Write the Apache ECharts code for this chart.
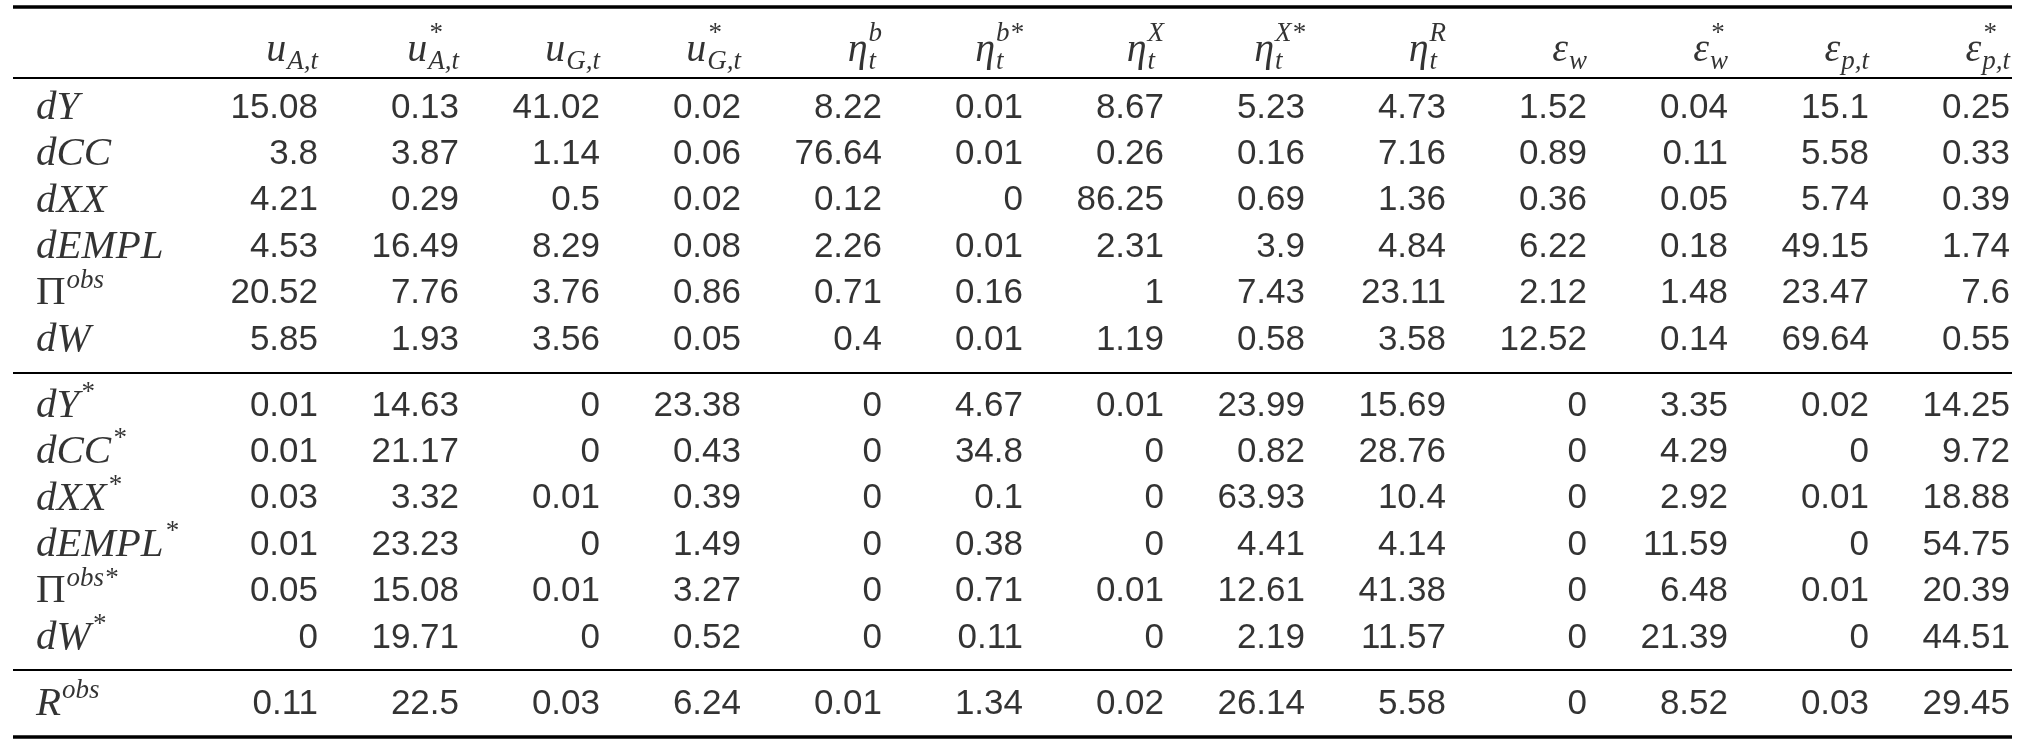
<!DOCTYPE html>
<html><head><meta charset="utf-8">
<script src="https://cdn.jsdelivr.net/npm/echarts@6/dist/echarts.min.js"></script>
<style>html,body{margin:0;padding:0;background:#fff}#c{width:2025px;height:743px}</style>
</head><body><div id="c"></div>
<script>
// header: [base, sub, sup]
const colHeads = [
  ['u','A,t',''],['u','A,t','*'],['u','G,t',''],['u','G,t','*'],
  ['η','t','b'],['η','t','b*'],['η','t','X'],['η','t','X*'],['η','t','R'],
  ['ε','w',''],['ε','w','*'],['ε','p,t',''],['ε','p,t','*']
];
// row labels: [base, sup]
const rowHeads = [
  ['dY',''],['dCC',''],['dXX',''],['dEMPL',''],['Π','obs'],['dW',''],
  ['dY','*'],['dCC','*'],['dXX','*'],['dEMPL','*'],['Π','obs*'],['dW','*'],
  ['R','obs']
];
const rowGroup = [0,0,0,0,0,0,1,1,1,1,1,1,2];
const vals_dY     = ['15.08','0.13','41.02','0.02','8.22','0.01','8.67','5.23','4.73','1.52','0.04','15.1','0.25'];
const vals_dCC    = ['3.8','3.87','1.14','0.06','76.64','0.01','0.26','0.16','7.16','0.89','0.11','5.58','0.33'];
const vals_dXX    = ['4.21','0.29','0.5','0.02','0.12','0','86.25','0.69','1.36','0.36','0.05','5.74','0.39'];
const vals_dEMPL  = ['4.53','16.49','8.29','0.08','2.26','0.01','2.31','3.9','4.84','6.22','0.18','49.15','1.74'];
const vals_Pi     = ['20.52','7.76','3.76','0.86','0.71','0.16','1','7.43','23.11','2.12','1.48','23.47','7.6'];
const vals_dW     = ['5.85','1.93','3.56','0.05','0.4','0.01','1.19','0.58','3.58','12.52','0.14','69.64','0.55'];
const vals_dYs    = ['0.01','14.63','0','23.38','0','4.67','0.01','23.99','15.69','0','3.35','0.02','14.25'];
const vals_dCCs   = ['0.01','21.17','0','0.43','0','34.8','0','0.82','28.76','0','4.29','0','9.72'];
const vals_dXXs   = ['0.03','3.32','0.01','0.39','0','0.1','0','63.93','10.4','0','2.92','0.01','18.88'];
const vals_dEMPLs = ['0.01','23.23','0','1.49','0','0.38','0','4.41','4.14','0','11.59','0','54.75'];
const vals_Pis    = ['0.05','15.08','0.01','3.27','0','0.71','0.01','12.61','41.38','0','6.48','0.01','20.39'];
const vals_dWs    = ['0','19.71','0','0.52','0','0.11','0','2.19','11.57','0','21.39','0','44.51'];
const vals_Robs   = ['0.11','22.5','0.03','6.24','0.01','1.34','0.02','26.14','5.58','0','8.52','0.03','29.45'];
const tableVals = [vals_dY,vals_dCC,vals_dXX,vals_dEMPL,vals_Pi,vals_dW,vals_dYs,vals_dCCs,vals_dXXs,vals_dEMPLs,vals_Pis,vals_dWs,vals_Robs];

// layout
const COL0 = 177, COLW = 141;
const ROW0 = 108, ROWH = 46.4, GAP = 19.6, HEADY = 50;
const rowY = i => ROW0 + i*ROWH + rowGroup[i]*GAP;
const rules = [[7,3.5],[78,2],[373,2],[670,2],[737,3.5]];
const toX = px => (px - COL0)/COLW;

const SERIF = '"Liberation Serif","DejaVu Serif",serif';
const SANS = '"Liberation Sans",Arial,sans-serif';
const cv = document.createElement('canvas').getContext('2d');
const meas = (t, f) => { cv.font = f; return cv.measureText(t).width; };

const headSize = 40, scrSize = 27, rowSize = 41, numSize = 35;
const items = [];
colHeads.forEach((h,j) => {
  const x = j+1;
  const w = Math.max(meas(h[1], `italic ${scrSize}px ${SERIF}`), meas(h[2], `italic ${scrSize}px ${SERIF}`));
  items.push({value:[x,HEADY], label:{formatter:h[0], align:'right', offset:[-w-1,0], fontFamily:SERIF, fontStyle:'italic', fontSize:headSize}});
  if (h[1]) items.push({value:[x,HEADY], label:{formatter:h[1], align:'left', offset:[-w,12], fontFamily:SERIF, fontStyle:'italic', fontSize:scrSize}});
  if (h[2]) items.push({value:[x,HEADY], label:{formatter:h[2], align:'left', offset:[-w,-16], fontFamily:SERIF, fontStyle:'italic', fontSize:scrSize}});
});
rowHeads.forEach((r,i) => {
  const y = rowY(i);
  const upright = r[0]==='Π';
  const f = `${upright?'':'italic '}${rowSize}px ${SERIF}`;
  const w = meas(r[0], f);
  items.push({value:[-1,y], label:{formatter:r[0], align:'left', fontFamily:SERIF, fontStyle:upright?'normal':'italic', fontSize:rowSize}});
  if (r[1]) items.push({value:[-1,y], label:{formatter:r[1], align:'left', offset:[w+1,-13], fontFamily:SERIF, fontStyle:'italic', fontSize:scrSize}});
  tableVals[i].forEach((v,j) => {
    items.push({value:[j+1,y], label:{formatter:v, align:'right', fontFamily:SANS, fontSize:numSize}});
  });
});

const chart = echarts.init(document.getElementById('c'));
chart.setOption({
  animation:false,
  grid:{left:0,right:0,top:0,bottom:0},
  xAxis:{type:'value', min:toX(0), max:toX(2025), show:false},
  yAxis:{type:'value', min:0, max:743, inverse:true, show:false},
  series:[{
    type:'scatter', symbolSize:0, silent:true,
    label:{show:true, position:'inside', color:'#000', verticalAlign:'middle'},
    data:items,
    markLine:{silent:true, symbol:'none', label:{show:false},
      data: rules.map(r => [{coord:[toX(13),r[0]], lineStyle:{color:'#000',width:r[1],type:'solid'}},{coord:[toX(2012),r[0]]}])
    }
  }]
});
</script></body></html>
